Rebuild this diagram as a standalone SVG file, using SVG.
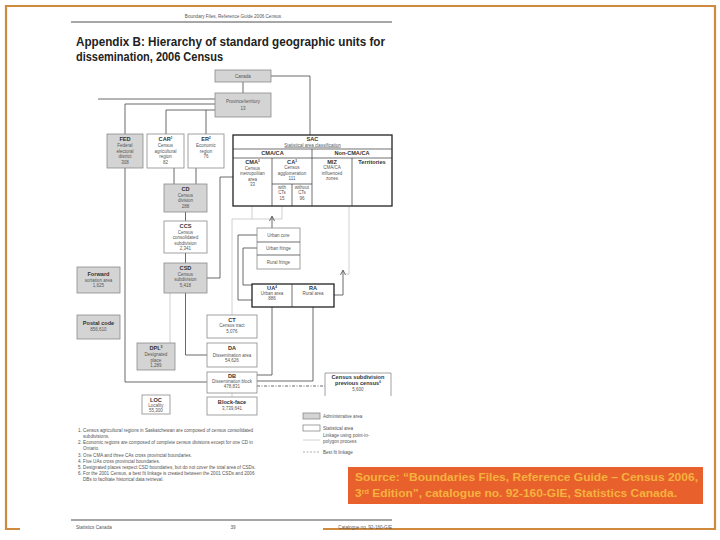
<svg xmlns="http://www.w3.org/2000/svg" width="720" height="540" viewBox="0 0 720 540">
<style>
.adm{fill:#d4d4d4;stroke:#8a8a8a;stroke-width:0.8}
.stat{fill:#fff;stroke:#8a8a8a;stroke-width:0.8}
.thick{fill:#fff;stroke:#222;stroke-width:1.3}
.div{fill:none;stroke:#333;stroke-width:0.7}
.t{font-family:"Liberation Sans",Arial,sans-serif;font-size:4.5px;fill:#555;text-anchor:middle}
.b{font-weight:bold;font-size:5.6px;fill:#333}
.c{fill:none;stroke:#444;stroke-width:0.8}
.l{fill:none;stroke:#c4c4c4;stroke-width:0.8}
.fn{font-family:"Liberation Sans",Arial,sans-serif;font-size:4.6px;fill:#555}
.frame{fill:none;stroke:#D08A3E;stroke-width:2.2}
</style>
<rect width="720" height="540" fill="#fff"/>
<g id="frame">
<path class="frame" d="M20 529 H6 V6 H715 V529 H323"/>
</g>
<g id="page-header">
<text x="233" y="18" class="fn" text-anchor="middle" font-size="4.8">Boundary Files, Reference Guide 2006 Census</text>
<line x1="71" y1="22" x2="392" y2="22" stroke="#222" stroke-width="0.8"/>
<text x="76" y="46" font-family="Liberation Sans,Arial,sans-serif" font-size="12" font-weight="bold" fill="#222" textLength="309" lengthAdjust="spacingAndGlyphs">Appendix B: Hierarchy of standard geographic units for</text>
<text x="76" y="61" font-family="Liberation Sans,Arial,sans-serif" font-size="12" font-weight="bold" fill="#222" textLength="147" lengthAdjust="spacingAndGlyphs">dissemination, 2006 Census</text>
</g>
<g id="connectors">
<path class="c" d="M243 82 V93"/>
<path class="c" d="M271 76 H310 V135"/>
<path class="c" d="M98 99 H215"/>
<path class="c" d="M125 134 V104 H215"/>
<path class="c" d="M166 134 V110 H215 M206 110 V134"/>
<path class="c" d="M174 168 V184 M196 168 V184"/>
<path class="c" d="M185.5 212 V221 M185.5 253 V263"/>
<path class="c" d="M207 278 H220 V177 H233"/>
<path class="c" d="M185.5 293 V355 H207"/>
<path class="c" d="M125 168 V382 H207"/>
<path class="l" d="M170 293 V343"/>
<path class="l" d="M252 206 V219 M282 206 V219 M232 219 H282 M232 219 V315"/>
<path class="l" d="M349 206 V274 H346"/>
<path class="c" d="M257 235 H238 V300 H252"/>
<path class="c" d="M257 248 H243 V285 H252"/>
<path class="c" d="M272 228 V217 M269.5 221 L272 216 L274.5 221"/>
<path class="c" d="M334 295 H343 V271 M340.5 275 L343 270 L345.5 275"/>
<path class="c" d="M272 307 V375 H257"/>
<path class="c" d="M313 307 V381 H257"/>
<path class="c" d="M257 386 H325" stroke-dasharray="3 1.5 1 1.5"/>
<path class="l" d="M232 393 V397"/>
</g>
<g id="canada"><rect class="adm" x="215" y="70" width="56" height="12"/><text class="t" x="243" y="77.5">Canada</text></g>
<g id="province"><rect class="adm" x="215" y="93" width="56" height="24"/><text class="t" x="243" y="103">Province/territory</text><text class="t" x="243" y="109.5">13</text></g>
<g id="fed"><rect class="adm" x="107" y="134" width="36" height="34"/><text class="t b" x="125" y="141">FED</text><text class="t" x="125" y="147">Federal</text><text class="t" x="125" y="152.5">electoral</text><text class="t" x="125" y="158">district</text><text class="t" x="125" y="163.5">308</text></g>
<g id="car"><rect class="stat" x="147" y="134" width="37" height="34"/><text class="t b" x="165.5" y="141">CAR<tspan font-size="3" dy="-2">1</tspan></text><text class="t" x="165.5" y="147">Census</text><text class="t" x="165.5" y="152.5">agricultural</text><text class="t" x="165.5" y="158">region</text><text class="t" x="165.5" y="163.5">82</text></g>
<g id="er"><rect class="stat" x="188" y="134" width="36" height="34"/><text class="t b" x="206" y="141">ER<tspan font-size="3" dy="-2">2</tspan></text><text class="t" x="206" y="147">Economic</text><text class="t" x="206" y="152.5">region</text><text class="t" x="206" y="158">76</text></g>
<g id="sac">
<rect class="thick" x="233" y="135" width="159" height="71"/>
<path class="div" d="M233 149 H392 M233 158 H392 M312 149 V206 M272 158 V206 M352 158 V206 M272 184 H312 M292 184 V206"/>
<text class="t b" x="312.5" y="140.5">SAC</text><text class="t" x="312.5" y="146.5" text-decoration="underline">Statistical area classification</text>
<text class="t b" x="272.5" y="155" font-weight="normal">CMA/CA</text><text class="t b" x="352" y="155" font-weight="normal">Non-CMA/CA</text>
<text class="t b" x="252.5" y="164">CMA<tspan font-size="3" dy="-2">3</tspan></text><text class="t" x="252.5" y="169.5">Census</text><text class="t" x="252.5" y="175">metropolitan</text><text class="t" x="252.5" y="180.5">area</text><text class="t" x="252.5" y="186">33</text>
<text class="t b" x="292" y="164">CA<tspan font-size="3" dy="-2">3</tspan></text><text class="t" x="292" y="169">Census</text><text class="t" x="292" y="174.5">agglomeration</text><text class="t" x="292" y="180">111</text>
<text class="t" x="282" y="189">with</text><text class="t" x="282" y="194">CTs</text><text class="t" x="282" y="199.5">15</text>
<text class="t" x="302" y="189">without</text><text class="t" x="302" y="194">CTs</text><text class="t" x="302" y="199.5">96</text>
<text class="t b" x="332" y="164">MIZ</text><text class="t" x="332" y="169">CMA/CA</text><text class="t" x="332" y="174.5">influenced</text><text class="t" x="332" y="180">zones</text>
<text class="t b" x="372" y="164">Territories</text>
</g>
<g id="cd"><rect class="adm" x="164" y="184" width="43" height="28"/><text class="t b" x="185.5" y="191">CD</text><text class="t" x="185.5" y="196.5">Census</text><text class="t" x="185.5" y="202">division</text><text class="t" x="185.5" y="207.5">288</text></g>
<g id="ccs"><rect class="stat" x="164" y="221" width="43" height="32"/><text class="t b" x="185.5" y="228">CCS</text><text class="t" x="185.5" y="233.5">Census</text><text class="t" x="185.5" y="239">consolidated</text><text class="t" x="185.5" y="244.5">subdivision</text><text class="t" x="185.5" y="250">2,341</text></g>
<g id="csd"><rect class="adm" x="164" y="263" width="43" height="30"/><text class="t b" x="185.5" y="270">CSD</text><text class="t" x="185.5" y="275.5">Census</text><text class="t" x="185.5" y="281">subdivision</text><text class="t" x="185.5" y="286.5">5,418</text></g>
<g id="fsa"><rect class="adm" x="77" y="267" width="43" height="26"/><text class="t b" x="98.5" y="276">Forward</text><text class="t" x="98.5" y="281.5">sortation area</text><text class="t" x="98.5" y="287">1,625</text></g>
<g id="postal"><rect class="adm" x="77" y="315" width="43" height="24"/><text class="t b" x="98.5" y="325">Postal code</text><text class="t" x="98.5" y="330.5">856,610</text></g>
<g id="dpl"><rect class="adm" x="137" y="343" width="38" height="27"/><text class="t b" x="156" y="350">DPL<tspan font-size="3" dy="-2">5</tspan></text><text class="t" x="156" y="356">Designated</text><text class="t" x="156" y="361.5">place</text><text class="t" x="156" y="367">1,289</text></g>
<g id="urban"><rect class="stat" x="257" y="228" width="43" height="41" stroke="#333"/><path class="div" d="M257 242 H300 M257 255 H300"/><text class="t" x="278.5" y="236.5">Urban core</text><text class="t" x="278.5" y="250">Urban fringe</text><text class="t" x="278.5" y="263.5">Rural fringe</text></g>
<g id="uara"><rect class="thick" x="252" y="284" width="82" height="23"/><path class="div" d="M292 284 V307"/><text class="t b" x="272" y="290">UA<tspan font-size="3" dy="-2">4</tspan></text><text class="t" x="272" y="295">Urban area</text><text class="t" x="272" y="300">886</text><text class="t b" x="313" y="290">RA</text><text class="t" x="313" y="295">Rural area</text></g>
<g id="ct"><rect class="stat" x="207" y="315" width="50" height="23"/><text class="t b" x="232" y="321.5">CT</text><text class="t" x="232" y="327">Census tract</text><text class="t" x="232" y="332.5">5,076</text></g>
<g id="da"><rect class="stat" x="207" y="343" width="50" height="24" stroke="#333"/><text class="t b" x="232" y="350">DA</text><text class="t" x="232" y="356.5">Dissemination area</text><text class="t" x="232" y="362">54,626</text></g>
<g id="db"><rect class="stat" x="207" y="372" width="50" height="21"/><text class="t b" x="232" y="377.5">DB</text><text class="t" x="232" y="382.5">Dissemination block</text><text class="t" x="232" y="387.5">478,831</text></g>
<g id="blockface"><rect class="stat" x="207" y="397" width="50" height="18"/><text class="t b" x="232" y="404">Block-face</text><text class="t" x="232" y="409.5">3,739,641</text></g>
<g id="loc"><rect class="stat" x="142" y="395" width="28" height="19"/><text class="t b" x="156" y="402">LOC</text><text class="t" x="156" y="407">Locality</text><text class="t" x="156" y="412">55,300</text></g>
<g id="csd-prev"><path class="stat" d="M325 396 V373 H391 V396"/><text class="t b" x="358" y="379">Census subdivision</text><text class="t b" x="358" y="385">previous census<tspan font-size="3" dy="-2">6</tspan></text><text class="t" x="358" y="391">5,600</text></g>
<g id="legend">
<rect class="adm" x="303" y="413" width="17" height="6"/><text class="fn" x="323" y="418">Administrative area</text>
<rect class="stat" x="303" y="425" width="17" height="6"/><text class="fn" x="323" y="430">Statistical area</text>
<line class="l" x1="303" y1="440" x2="320" y2="440"/><text class="fn" x="323" y="437">Linkage using point-in-</text><text class="fn" x="323" y="443">polygon process</text>
<line x1="303" y1="452" x2="320" y2="452" stroke="#999" stroke-width="0.8" stroke-dasharray="2 1.5"/><text class="fn" x="323" y="453.5">Best fit linkage</text>
</g>
<g id="footnotes">
<text class="fn" x="78" y="432">1. Census agricultural regions in Saskatchewan are composed of census consolidated</text>
<text class="fn" x="83" y="438">subdivisions.</text>
<text class="fn" x="78" y="444">2. Economic regions are composed of complete census divisions except for one CD in</text>
<text class="fn" x="83" y="449.5">Ontario.</text>
<text class="fn" x="78" y="457">3. One CMA and three CAs cross provincial boundaries.</text>
<text class="fn" x="78" y="462.5">4. Five UAs cross provincial boundaries.</text>
<text class="fn" x="78" y="468.5">5. Designated places respect CSD boundaries, but do not cover the total area of CSDs.</text>
<text class="fn" x="78" y="474.5">6. For the 2001 Census, a best fit linkage is created between the 2001 CSDs and 2006</text>
<text class="fn" x="83" y="480.5">DBs to facilitate historical data retrieval.</text>
</g>
<g id="page-footer">
<line x1="71" y1="520" x2="392" y2="520" stroke="#222" stroke-width="0.8"/>
<text class="fn" x="76" y="528.5" font-size="5">Statistics Canada</text>
<text class="fn" x="233" y="528.5" font-size="7" text-anchor="middle" fill="#333">39</text>
<text class="fn" x="392" y="528.5" font-size="5" text-anchor="end">Catalogue no. 92-160-GIE</text>
</g>
<g id="source">
<rect x="348" y="467" width="355" height="37" fill="#E8612C"/>
<text x="355" y="481" font-family="Liberation Sans,Arial,sans-serif" font-size="11.5" font-weight="bold" fill="#F6B23C" textLength="343" lengthAdjust="spacingAndGlyphs">Source: “Boundaries Files, Reference Guide – Census 2006,</text>
<text x="355" y="497" font-family="Liberation Sans,Arial,sans-serif" font-size="11.5" font-weight="bold" fill="#F6B23C" textLength="322" lengthAdjust="spacingAndGlyphs">3<tspan font-size="7" dy="-3">rd</tspan><tspan dy="3"> Edition”, catalogue no. 92-160-GIE, Statistics Canada.</tspan></text>
</g>
</svg>
